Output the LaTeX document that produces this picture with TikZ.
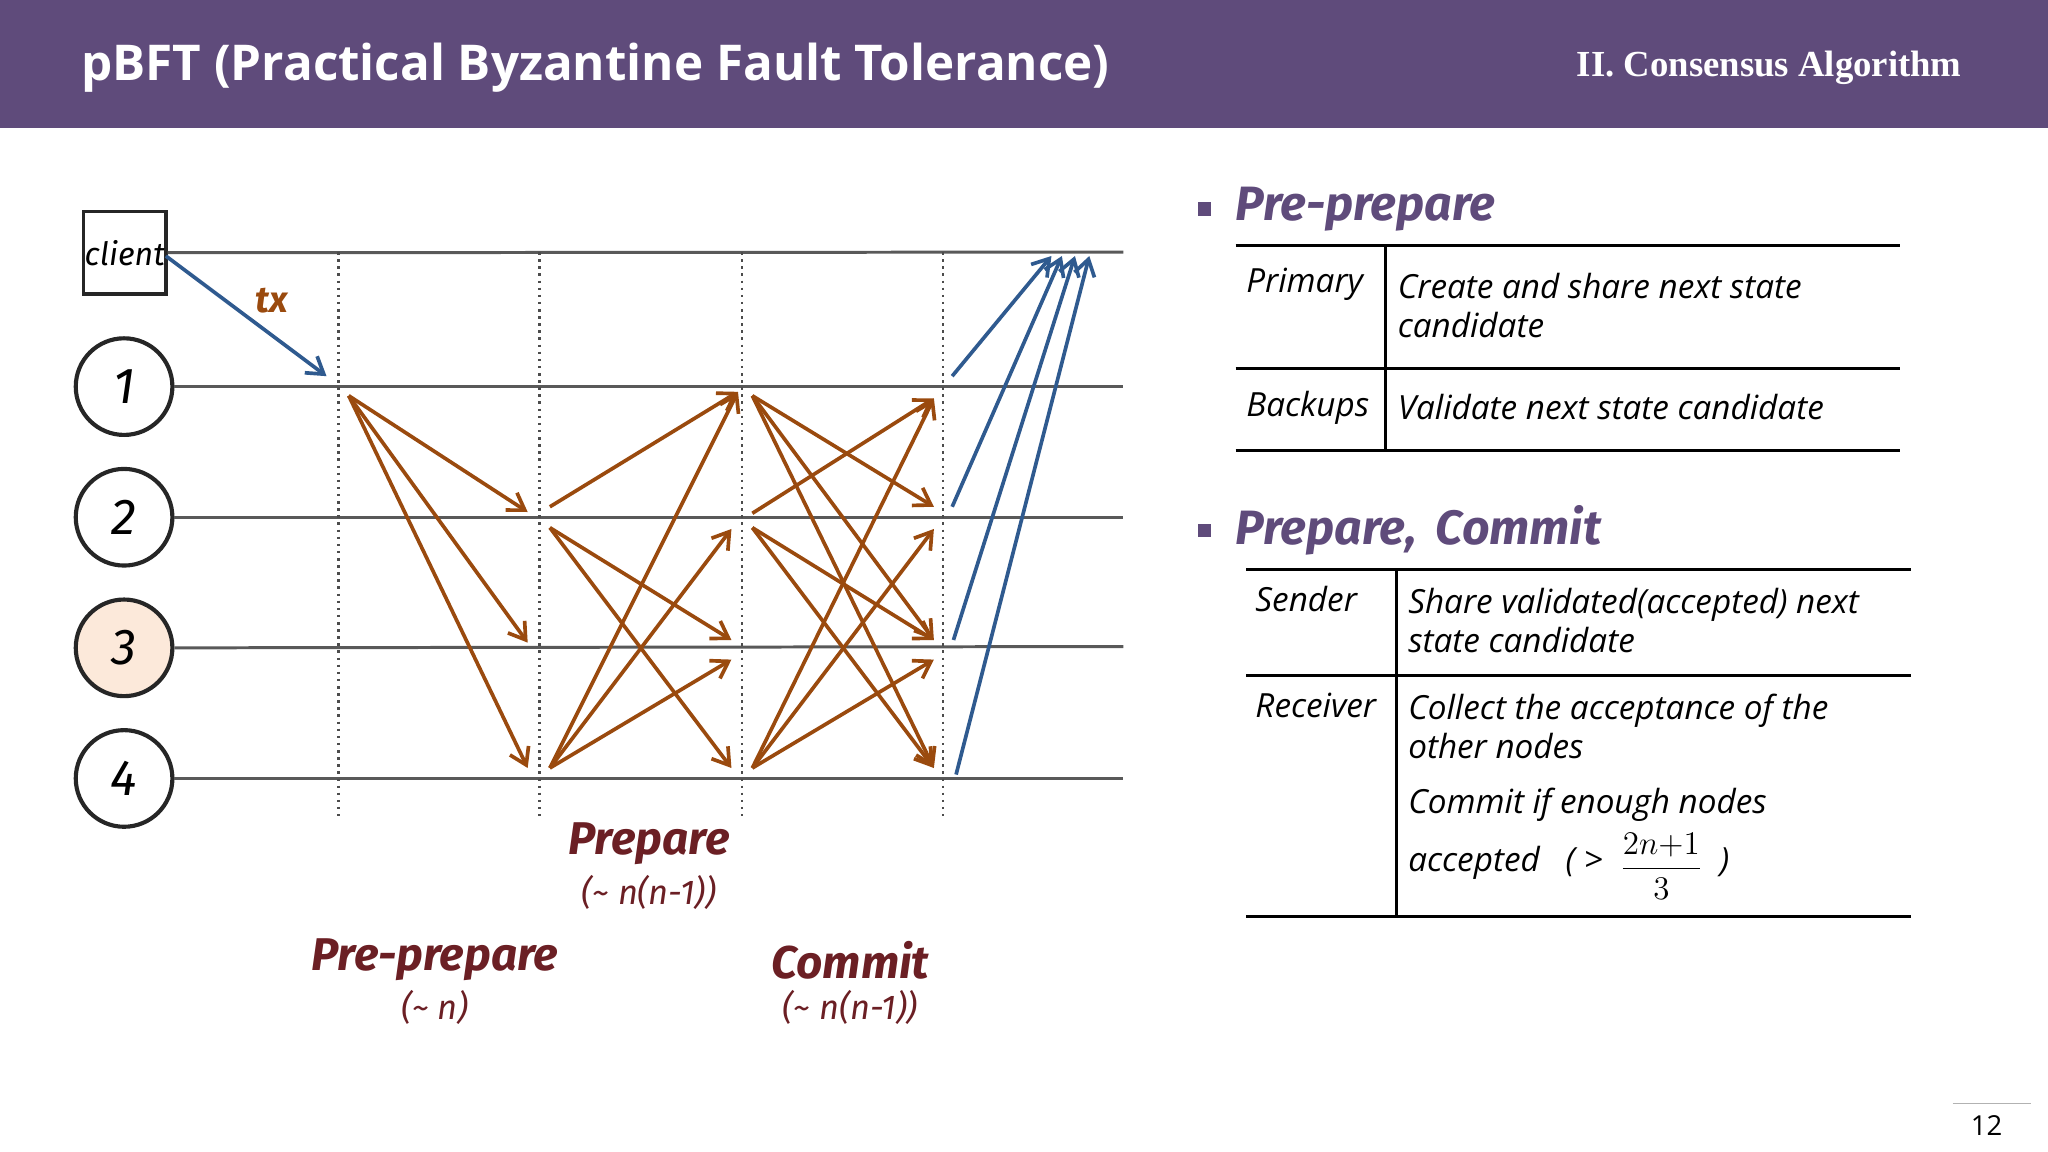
\documentclass[tikz,border=0pt]{standalone}
\usepackage{fontspec}
\setmainfont{Open Sans}
\newfontfamily\hand{Fira Sans}
\newfontfamily\ser{Liberation Serif}
\usetikzlibrary{arrows.meta}
\definecolor{hdr}{HTML}{5F4B7B}
\definecolor{brn}{HTML}{9A4A0E}
\definecolor{blu}{HTML}{2F5A8F}
\definecolor{dred}{HTML}{6B1F24}
\begin{document}
\begin{tikzpicture}[x=0.02cm,y=-0.02cm,
 hl/.style={draw=black!65,line width=1.3pt},
 vl/.style={draw=black!70,line width=1.1pt,dotted},
 ba/.style={draw=brn,line width=1.6pt,-{Straight Barb[length=7pt,width=9pt]}},
 bl/.style={draw=blu,line width=1.6pt,-{Straight Barb[length=7pt,width=9pt]}},
 nd/.style={circle,draw=black!85,line width=1.8pt,minimum size=1.48cm,inner sep=0pt,font=\hand\itshape\fontsize{22}{22}\selectfont},
 lab/.style={text=dred,font=\hand\bfseries\itshape\fontsize{20}{22}\selectfont},
 sub/.style={text=dred,font=\hand\itshape\fontsize{15}{17}\selectfont},
 tt/.style={anchor=west,font=\itshape\fontsize{14.5}{17}\selectfont,align=left},
 hd/.style={anchor=west,text=hdr,font=\hand\bfseries\itshape\fontsize{21}{24}\selectfont},
 tl/.style={draw=black,line width=1.3pt}]
\useasboundingbox (0,0) rectangle (1568,882);
\fill[hdr] (0,0) rectangle (1568,98);
\node[anchor=west,text=white,font=\bfseries\fontsize{21.5}{26}\selectfont] (title) at (56,52) {pBFT (Practical Byzantine Fault Tolerance)};
\node[anchor=east,text=white,font=\ser\bfseries\fontsize{16}{20}\selectfont] (sec) at (1508,52) {II. Consensus Algorithm};
\draw[black!30] (1495,845) -- (1555,845);
\node[font=\fontsize{12}{14}\selectfont] (pg) at (1521,862) {12};
% lines
\node[draw=black!85,line width=1.6pt,minimum size=1.26cm,inner sep=0pt,font=\hand\itshape\fontsize{14}{14}\selectfont] (cl) at (95.5,193.5) {client};
\draw[hl] (cl.east) -- (860,193);
\node[nd] (n1) at (95,296) {1};
\node[nd] (n2) at (95,396) {2};
\node[nd,fill={rgb,255:red,252;green,233;blue,218}] (n3) at (95,496) {3};
\node[nd] (n4) at (95,596) {4};
\foreach \i/\y in {1/296,2/396,3/495,4/596}{ \coordinate (e\i) at (860,\y); \draw[hl] (n\i.east) -- (e\i);}
\foreach \x in {259,413,568,722}{ \coordinate (t\x) at (\x,193); \coordinate (b\x) at (\x,625); \draw[vl] (t\x) -- (b\x);}
% tx
\coordinate (txs) at (127,196); \coordinate (txe) at (250,288);
\draw[bl] (txs) -- (txe);
\node[text=brn,font=\hand\bfseries\itshape\fontsize{16}{16}\selectfont] (tx) at (208,230) {tx};
% pre-prepare
\coordinate (p0) at (267,303);
\foreach \y in {392,492,588}{\coordinate (q) at (404,\y); \draw[ba] (p0) -- (q);}
% prepare
\coordinate (a2u) at (421,388); \coordinate (a2d) at (421,404); \coordinate (a4) at (421,588);
\draw[ba] (a2u) -- (565,300);
\draw[ba] (a2d) -- (560,490);
\draw[ba] (a2d) -- (560,588);
\draw[ba] (a4) -- (565,300);
\draw[ba] (a4) -- (560,405);
\draw[ba] (a4) -- (560,505);
% commit
\coordinate (c1) at (576,303); \coordinate (c2u) at (576,393); \coordinate (c2d) at (576,404); \coordinate (c4) at (576,588);
\draw[ba] (c1) -- (715,388);
\draw[ba] (c1) -- (715,490);
\draw[ba] (c1) -- (715,588);
\draw[ba] (c2u) -- (715,305);
\draw[ba] (c2d) -- (715,490);
\draw[ba] (c2d) -- (715,588);
\draw[ba] (c4) -- (715,305);
\draw[ba] (c4) -- (715,405);
\draw[ba] (c4) -- (715,505);
% reply
\draw[bl] (729,288) -- (805,196);
\draw[bl] (729,388) -- (813,196);
\draw[bl] (730,490) -- (823,196);
\draw[bl] (732,593) -- (834,196);
% labels
\node[lab] (lp) at (497,646) {Prepare};
\node[sub] (lps) at (497,683) {(\textasciitilde{} n(n-1))};
\node[lab] (lpp) at (333,735) {Pre-prepare};
\node[sub] (lpps) at (333,771) {(\textasciitilde{} n)};
\node[lab] (lc) at (651,735) {Commit};
\node[sub] (lcs) at (651,771) {(\textasciitilde{} n(n-1))};
% right side
\fill[hdr] (917,155) rectangle (927,165);
\node[hd] (h1) at (940,160) {Pre-prepare};
\draw[tl] (946,188) -- (1455,188);
\draw[tl] (946,282) -- (1455,282);
\draw[tl] (946,345) -- (1455,345);
\draw[tl] (1061,188) -- (1061,345);
\node[tt] (r1) at (948,218) {Primary};
\node[tt] (r1b) at (1064,234) {Create and share next state\\candidate};
\node[tt] (r2) at (948,312) {Backups};
\node[tt] (r2b) at (1064,312) {Validate next state candidate};
\fill[hdr] (917,401) rectangle (927,411);
\node[hd] (h2) at (940,406) {Prepare,\, Commit};
\draw[tl] (954,436) -- (1463,436);
\draw[tl] (954,517) -- (1463,517);
\draw[tl] (954,702) -- (1463,702);
\draw[tl] (1069,436) -- (1069,702);
\node[tt] (s1) at (955,459) {Sender};
\node[tt] (s1b) at (1072,475) {Share validated(accepted) next\\state candidate};
\node[tt] (s2) at (955,540) {Receiver};
\node[tt] (s2b) at (1072,556) {Collect the acceptance of the\\other nodes};
\node[tt] (s2c) at (1072,616) {Commit if enough nodes};
\node[tt] (s2d) at (1072,663) {accepted \ \ ( > \ \raisebox{-0.3ex}{$\displaystyle\frac{2n{+}1}{\;3\;}$}\ \ )};
\end{tikzpicture}
\end{document}
